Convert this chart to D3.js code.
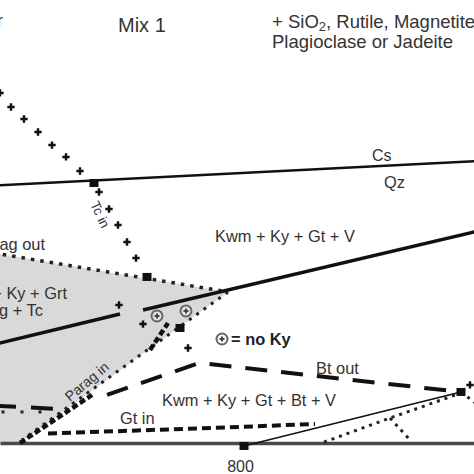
<!DOCTYPE html>
<html><head><meta charset="utf-8">
<script src="https://cdn.jsdelivr.net/npm/d3@7"></script>
<style>
html,body{margin:0;padding:0;background:#fff;}
svg{display:block;font-family:"Liberation Sans",Arial,sans-serif;}
</style></head>
<body>
<svg id="c" width="474" height="474"></svg>
<script>
// ---- data (T in °C, P in GPa) ----
const xTicks = [800];
const csQz = [[675, 2.905], [920, 3.09]];
const tcInDots = [[680,3.593],[685.5,3.489],[692,3.40],[699,3.304],[706,3.207],[713,3.119],[720,3.015],
                  [729.5,2.859],[734.5,2.733],[739,2.615],[743.5,2.489],[748,2.37]];
const paragOut = [[672,2.42],[794,2.119]];
const paragIn = [[794,2.119],[691,1.022]];
const grayField = [[670,2.424],[794,2.119],[690,1.0],[670,1.0]];
const paragInThickA = [[690,1.0],[726,1.356]];
const paragInThickB = [[755,1.689],[764,1.889]];
const kwmOutLeft = [[677,1.73],[740,1.956]];
const kwmOutRight = [[751.5,1.985],[920,2.574]];
const btOut = [[733.5,1.356],[779.5,1.593],[910.5,1.378]];
const gtIn = [[704,1.07],[800,1.119],[837.5,1.141]];
const leftDashed = [[677,1.276],[710,1.252]];
const leftTicks = [[681.5,1.23],[691,1.23],[700,1.23]];
const thinLine = [[802,0.978],[910.5,1.378]];
const dottedLambda = [[842,1.007],[875,1.185],[910.5,1.37]];
const dottedDown = [[875,1.185],[885,1.022]];
const dottedRight = [[910.5,1.378],[920,1.27]];
const bigSquares = [[727,2.926],[753.5,2.23],[770,1.852],[910.5,1.378],[802,0.978]];
const crossMarks = [[739.5,2.022],[751.5,1.881],[774,1.704],[915,1.43]];
const noKyMarks = [[758.5,1.941],[773,1.978]];

// ---- scales ----
const W = 474, H = 474;
const x = d3.scaleLinear().domain([680, 917]).range([0, 474]);
const y = d3.scaleLinear().domain([1.0, 3.0]).range([443, 173]);
const svg = d3.select("#c");
const line = d3.line().x(d => x(d[0])).y(d => y(d[1]));

// gray field
svg.append("path").attr("d", line(grayField) + "Z").attr("fill", "#d9d9d9");

function path(data, w, dash, color) {
  const p = svg.append("path").attr("d", line(data)).attr("fill", "none")
    .attr("stroke", color || "#111").attr("stroke-width", w);
  if (dash) p.attr("stroke-dasharray", dash);
  return p;
}

// axis
const ax = svg.append("g").attr("transform", `translate(0,${y(1.0)})`)
  .call(d3.axisBottom(x).tickValues(xTicks).tickSize(0).tickPadding(18).tickFormat(d3.format("d")));
ax.select(".domain").attr("stroke", "#4a4a4a").attr("stroke-width", 3.5);
ax.selectAll("text").attr("font-size", 16).attr("fill", "#333").attr("font-family", "Liberation Sans, Arial, sans-serif");

// lines
path(csQz, 2.5);
path(paragOut, 3.5, "3.5,6", "#222");
path(paragIn, 3, "3,6", "#222");
path(paragInThickA, 4.5, "6,3");
path(paragInThickB, 4.5, "6,3");
path(kwmOutLeft, 3.5);
path(kwmOutRight, 3.5);
path(btOut, 4, "22,14");
path(gtIn, 4, "9,5");
path(leftDashed, 4, "22,15");
path(thinLine, 1.6);
path(dottedLambda, 3, "3,5", "#222");
path(dottedDown, 3, "3,5", "#222");
path(dottedRight, 3, "3,5", "#222");

// small tick dots
svg.selectAll(".lt").data(leftTicks).join("rect")
  .attr("x", d => x(d[0]) - 1.5).attr("y", d => y(d[1]) - 1.5)
  .attr("width", 3).attr("height", 3).attr("fill", "#222");

// Tc-in cross dots
const cross = d3.symbol().type(d3.symbolCross).size(30);
svg.selectAll(".tc").data(tcInDots.concat(crossMarks)).join("path")
  .attr("d", cross).attr("transform", d => `translate(${x(d[0])},${y(d[1])})`).attr("fill", "#111");

// big squares
svg.selectAll(".sq").data(bigSquares).join("rect")
  .attr("x", d => x(d[0]) - 4.5).attr("y", d => y(d[1]) - 4)
  .attr("width", 9).attr("height", 8).attr("fill", "#111");

// no-Ky symbols
function noKy(g, cx, cy) {
  g.append("circle").attr("cx", cx).attr("cy", cy).attr("r", 5.5)
    .attr("fill", "#fff").attr("fill-opacity", 0.3).attr("stroke", "#666").attr("stroke-width", 2);
  g.append("path").attr("d", `M${cx-2.5},${cy}H${cx+2.5}M${cx},${cy-2.5}V${cy+2.5}`)
    .attr("stroke", "#444").attr("stroke-width", 2);
}
noKyMarks.forEach(d => noKy(svg, x(d[0]), y(d[1])));
noKy(svg, 222, 339);

// texts
const txt = (s, tx, ty, size, opts = {}) => {
  const t = svg.append("text").attr("x", tx).attr("y", ty).attr("font-size", size)
    .attr("fill", opts.fill || "#333").text(s);
  if (opts.anchor) t.attr("text-anchor", opts.anchor);
  if (opts.weight) t.attr("font-weight", opts.weight);
  if (opts.rotate !== undefined) t.attr("transform", `rotate(${opts.rotate},${tx},${ty})`);
  return t;
};
txt("r", -3, 27, 18);
txt("Mix 1", 118, 32, 20);
const t1 = svg.append("text").attr("x", 272).attr("y", 28).attr("font-size", 18.5).attr("fill", "#333");
t1.append("tspan").text("+ SiO");
t1.append("tspan").attr("font-size", 13).attr("dy", 3).text("2");
t1.append("tspan").attr("dy", -3).text(", Rutile, Magnetite");
txt("Plagioclase or Jadeite", 272, 48, 18.5);
txt("Cs", 372, 161, 16);
txt("Qz", 384, 188, 16.4);
txt("Kwm + Ky + Gt + V", 215, 242, 16.4);
txt("Parag out", 45, 250, 16.4, {anchor: "end"});
txt("Kwm + Ky + Grt", 67, 299, 16.4, {anchor: "end"});
txt("+ Parag + Tc", 43, 316, 16.4, {anchor: "end"});
txt("Tc in", 90, 204, 13.5, {rotate: 65});
txt("= no Ky", 231, 345, 16.4, {weight: "bold", fill: "#222"});
txt("Bt out", 316, 374, 16.4);
txt("Kwm + Ky + Gt + Bt + V", 162, 406, 16.4);
txt("Gt in", 120, 424, 16.4);
txt("Parag in", 70, 402, 14, {rotate: -40});
</script>
</body></html>
